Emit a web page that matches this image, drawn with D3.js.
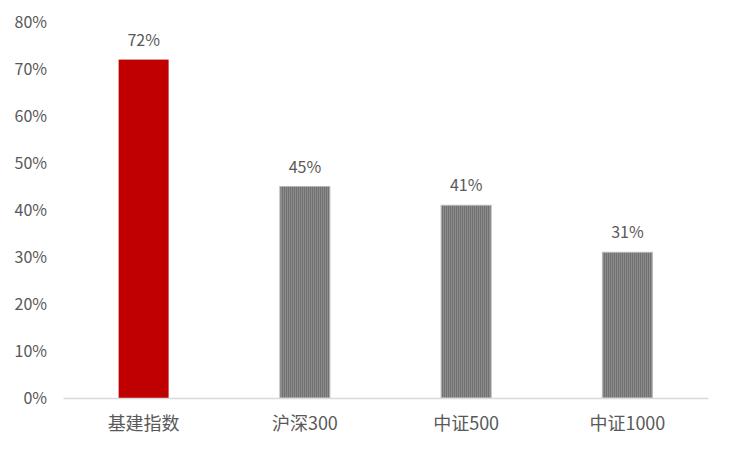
<!DOCTYPE html>
<html lang="zh"><head>
<meta charset="utf-8">
<title>基建指数</title>
<script src="https://cdn.jsdelivr.net/npm/d3@7/dist/d3.min.js"></script>
<style>
  body { margin: 0; background: #fff; }
  text { font-family: "Noto Sans CJK SC", "Microsoft YaHei", sans-serif; fill: #595959; }
</style>
</head>
<body>
<script>
// data
var categories = ["基建指数", "沪深300", "中证500", "中证1000"];
var values = [72, 45, 41, 31];
var yTicks = [0, 10, 20, 30, 40, 50, 60, 70, 80];

var w = 732, h = 450;
var mLeft = 63, mRight = 708, mTop = 22, mBottom = 398;

var svg = d3.select("body").append("svg")
  .attr("width", w).attr("height", h);

// striped pattern for gray bars
var defs = svg.append("defs");
var pat = defs.append("pattern")
  .attr("id", "stripes")
  .attr("patternUnits", "userSpaceOnUse")
  .attr("width", 2).attr("height", 4);
pat.append("rect").attr("width", 2).attr("height", 4).attr("fill", "#8c8c8c");
pat.append("rect").attr("width", 1).attr("height", 4).attr("fill", "#717171");

var x = d3.scaleBand()
  .domain(categories)
  .range([mLeft, mRight])
  .paddingInner(0.69)
  .paddingOuter(0.345);

var y = d3.scaleLinear()
  .domain([0, 80])
  .range([mBottom, mTop]);

// y labels
var yAxis = d3.axisLeft(y)
  .tickValues(yTicks)
  .tickFormat(function(d) { return d + "%"; })
  .tickSize(0)
  .tickPadding(16);
var ya = svg.append("g").attr("transform", "translate(" + mLeft + ",0)").call(yAxis);
ya.select(".domain").remove();
ya.selectAll("text").attr("font-size", "16px")
  .style("font-family", "'Noto Sans CJK SC', sans-serif").attr("fill", "#595959");

// bars
svg.selectAll("rect.bar")
  .data(values)
  .enter()
  .append("rect")
  .attr("class", "bar")
  .attr("x", function(d, i) { return x(categories[i]); })
  .attr("y", function(d) { return y(d); })
  .attr("width", x.bandwidth())
  .attr("height", function(d) { return y(0) - y(d); })
  .attr("fill", function(d, i) { return i === 0 ? "#c00000" : "url(#stripes)"; })
  .attr("stroke", function(d, i) { return i === 0 ? "none" : "#b5b5b5"; })
  .attr("stroke-width", 1);

// x axis
var xAxis = d3.axisBottom(x).tickSize(0).tickPadding(19);
var xa = svg.append("g").attr("transform", "translate(0," + mBottom + ")").call(xAxis);
xa.select(".domain").attr("stroke", "#d9d9d9").attr("stroke-width", 1.5);
xa.selectAll("text").attr("font-size", "18px").attr("fill", "#595959")
  .style("font-family", "'Noto Sans CJK SC', sans-serif");

// value labels
svg.selectAll("text.val")
  .data(values)
  .enter()
  .append("text")
  .attr("class", "val")
  .attr("text-anchor", "middle")
  .attr("x", function(d, i) { return x(categories[i]) + x.bandwidth() / 2; })
  .attr("y", function(d) { return y(d) - 14; })
  .attr("font-size", "16px")
  .text(function(d) { return d + "%"; });
</script>
</body></html>
